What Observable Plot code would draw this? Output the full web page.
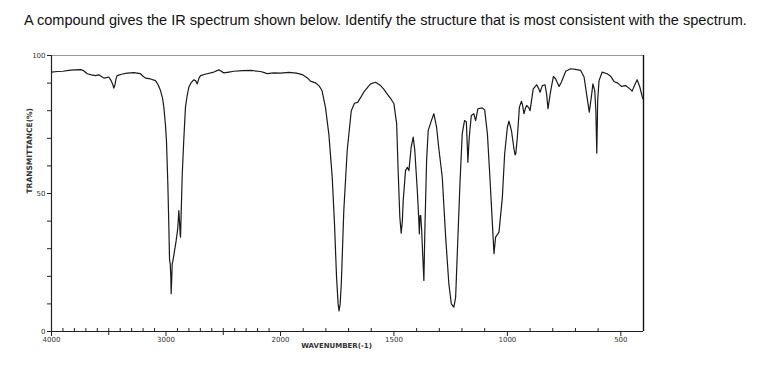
<!DOCTYPE html>
<html><head><meta charset="utf-8">
<script src="https://cdn.jsdelivr.net/npm/d3@7"></script>
<script src="https://cdn.jsdelivr.net/npm/@observablehq/plot@0.6"></script>
<style>
body{margin:0;background:#fff;width:763px;height:370px;overflow:hidden;position:relative;font-family:"Liberation Sans",Arial,sans-serif}
#title{position:absolute;left:24px;top:12px;font-size:14.55px;line-height:16px;color:#111;white-space:nowrap}
#chart{position:absolute;left:0;top:40px}
#vline{position:absolute;left:26px;top:47px;width:2px;height:313px;background:#111}
#hline{position:absolute;left:52px;top:46px;width:594px;height:1px;background:#444}
</style></head>
<body>
<div id="title">A compound gives the IR spectrum shown below. Identify the structure that is most consistent with the spectrum.</div>
<div id="hline"></div><div id="vline"></div>
<div id="chart"></div>
<script>
const wavenumber = [4000,3950,3900,3850,3800,3747,3720,3688,3650,3616,3587,3560,3543,3520,3500,3479,3465,3456,3445,3435,3427,3380,3339,3280,3223,3200,3179,3135,3092,3070,3048,3030,3019,3005,2996,2984,2975,2969,2963,2958,2955,2950,2946,2940,2930,2911,2897,2888,2882,2876,2873,2868,2858,2845,2830,2815,2801,2780,2757,2740,2727,2712,2699,2650,2582,2539,2495,2450,2408,2330,2262,2175,2140,2116,2058,2000,1963,1930,1904,1880,1868,1846,1830,1817,1802,1787,1772,1762,1753,1746,1742,1737,1732,1721,1706,1688,1674,1660,1645,1633,1615,1603,1581,1559,1545,1530,1515,1500,1488,1482,1474,1468,1463,1459,1449,1441,1434,1424,1415,1408,1397,1391,1388,1385,1382,1378,1374,1368,1364,1356,1349,1335,1324,1312,1302,1287,1272,1258,1247,1236,1228,1218,1209,1199,1189,1181,1177,1174,1171,1168,1159,1148,1140,1130,1111,1100,1088,1077,1066,1059,1052,1045,1037,1022,1012,1000,993,982,971,966,963,960,956,947,938,933,927,920,915,905,900,886,871,862,856,846,834,827,821,815,809,797,787,772,762,743,721,700,677,662,651,639,630,623,615,610,606,603,602,596,582,560,545,530,513,498,479,460,450,438,428,416,405,400];
const transmittance = [94.0,94.2,94.3,94.6,94.8,94.9,94.5,93.4,93.0,92.7,93.0,92.3,91.8,92.0,92.2,90.9,89.5,88.2,89.5,91.8,92.7,93.3,93.6,93.8,93.4,92.5,91.8,91.5,90.9,89.5,87.3,84.5,81.3,75,69.2,53.5,37.8,26,24.5,20,13.7,19,24.5,25.5,28,33,37.5,43.8,40,35,34.2,42,57,69.2,81.3,85.5,88.5,90.2,91.2,90.8,89.7,91.8,92.7,93.3,94.0,94.8,93.7,94.0,94.3,94.5,94.6,94.2,93.8,93.4,93.7,93.6,93.9,93.6,93.1,91.8,90.7,90.1,89,87.3,81.3,71.6,55.9,39,19.7,10,7.5,10,17.3,43.8,65.6,80,82.7,83,85,86.7,88.5,89.7,90.3,89.1,87.8,86.1,84.5,82.5,75.2,59.5,41.4,35.6,40,47.5,58.3,59.5,58.3,66.8,70.4,65.6,51.1,41.4,35.4,42,42,37,29.3,18.5,35.5,62,72.8,76.4,78.9,74,66.2,55.9,34.2,17.3,10,8.8,12.4,34.2,53.5,71.6,76.4,76,68,61.3,66,70.4,78.3,78.9,76.4,80.7,81,80.3,71.6,55.9,39,28.2,34.2,35,36,48.7,64.4,74,76.2,72.8,66.2,64,64.4,67,70.4,81.3,83.4,82,78.9,81,81.9,81,80,87.9,89.4,88,86.7,89.1,89.4,86,80.7,84,87.3,92.4,91.5,88.8,90.3,94.3,95.2,95,94.6,92.2,86.1,79.5,84.9,89.7,87.3,80,64.6,78,83.7,90.9,94.0,93.4,92.5,90.6,90,88.8,89.1,87.9,87.1,89.5,91.2,88.5,84.9,84];
const majorTicks = [4000,3000,2000,1500,1000,500];
const minorTicks = [3900,3800,3700,3600,3500,3400,3300,3200,3100,2900,2800,2700,2600,2500,2400,2300,2200,2100,1900,1800,1700,1600,1400,1300,1200,1100,900,800,700,600];
const halfTicks = [3500,2500];
const yTicks = [0,10,20,30,40,50,60,70,80,90,100];
const yLabels = [0,50,100];
const xTitle = "WAVENUMBER(-1)";
const yTitle = "TRANSMITTANCE(%)";

const data = wavenumber.map((w, i) => ({w, t: transmittance[i]}));
const blank = () => "";

const plot = Plot.plot({
  width: 763, height: 330,
  marginTop: 15, marginBottom: 39, marginLeft: 51, marginRight: 120,
  x: {type: "linear", domain: [4000, 2000, 400], range: [51, 280, 643], label: null},
  y: {domain: [0, 100], range: [291, 15], label: null},
  style: {fontFamily: "DejaVu Sans", fontSize: "7px", color: "#333", background: "#fff"},
  marks: [
    Plot.ruleY([100], {stroke: "#9a9a9a", strokeWidth: 1.2}),
    Plot.ruleX([400], {stroke: "#111", strokeWidth: 1.4}),
    Plot.axisX(minorTicks, {tickSize: -3, tickFormat: blank, stroke: "#222", label: null}),
    Plot.axisX(halfTicks, {tickSize: 4, tickFormat: blank, stroke: "#222", label: null}),
    Plot.axisX(majorTicks, {tickSize: 5, tickPadding: 1, tickFormat: d => String(d), stroke: "#222", label: null}),
    Plot.axisY(yTicks, {tickSize: 4, tickPadding: 2, tickFormat: d => yLabels.includes(d) ? String(d) : "", stroke: "#222", label: null}),
    Plot.ruleY([0], {stroke: "#222", strokeWidth: 1.2}),
    Plot.ruleX([4000], {stroke: "#222", strokeWidth: 1.2, y1: 0, y2: 100}),
    Plot.lineY(data, {x: "w", y: "t", stroke: "#1a1a1a", strokeWidth: 1.2, curve: "linear"}),
    Plot.text([xTitle], {frameAnchor: "bottom", dx: -11, dy: 16, fontSize: 7, fontWeight: "bold", fill: "#333"}),
    Plot.text([yTitle], {frameAnchor: "left", dx: -22, rotate: -90, fontSize: 7.5, fontWeight: "bold", fill: "#333"})
  ]
});
document.getElementById("chart").appendChild(plot);
</script>
</body></html>
